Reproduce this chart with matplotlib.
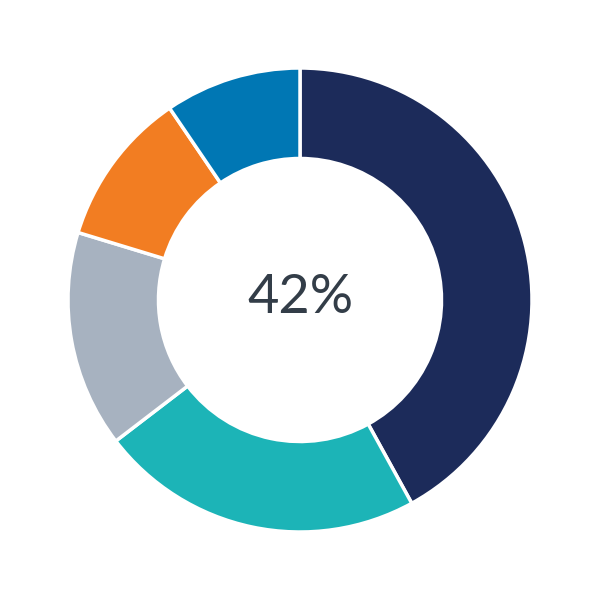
import matplotlib
matplotlib.use("Agg")
import matplotlib.pyplot as plt

labels = ["A", "B", "C", "D", "E"]
values = [42.0, 22.6, 15.1, 10.8, 9.5]
colors = ["#1c2b5a", "#1cb4b7", "#a7b2c0", "#f27d22", "#0077b4"]
center_label = "42%"

fig = plt.figure(figsize=(6, 6), dpi=100)
ax = fig.add_axes([0, 0, 1, 1])
ax.pie(values, colors=colors, startangle=90, counterclock=False,
       radius=1.0,
       wedgeprops=dict(width=0.39, edgecolor="white", linewidth=2.5))
lim = 300 / 232
ax.set_xlim(-lim, lim)
ax.set_ylim(-lim, lim)
ax.set_aspect("equal")
ax.axis("off")
ax.text(0, 0.012, center_label, ha="center", va="center", fontsize=39,
        color="#333d48", family=["Lato", "DejaVu Sans"])
fig.savefig("out.png", dpi=100, facecolor="white")
